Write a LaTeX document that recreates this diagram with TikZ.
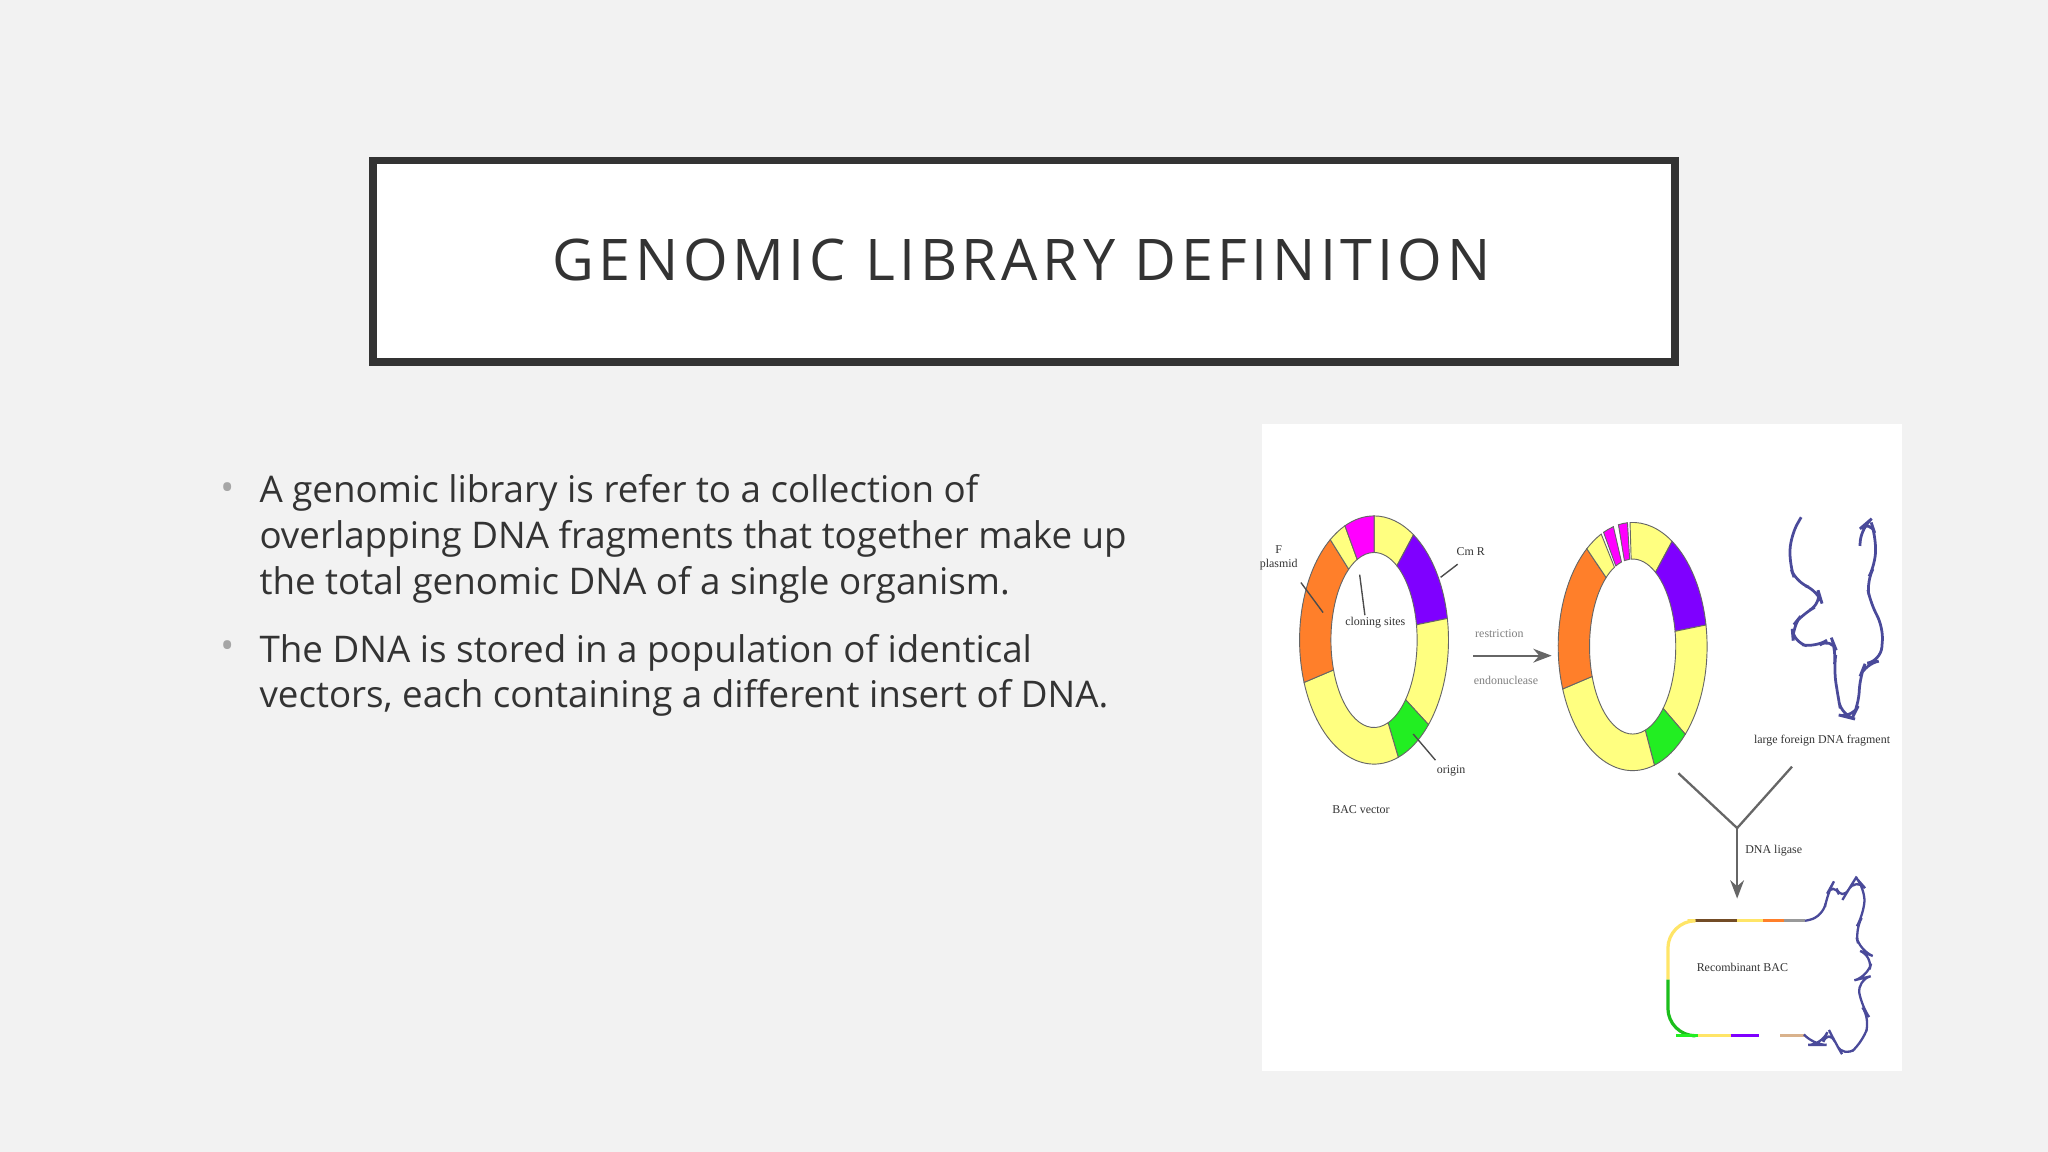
\documentclass[tikz,border=0pt]{standalone}
\usepackage{fontspec}
\setmainfont{Open Sans}
\newfontfamily\serf{Liberation Serif}
\usetikzlibrary{arrows.meta,calc}
\definecolor{bg}{HTML}{F2F2F2}
\definecolor{txt}{HTML}{333333}
\definecolor{ry}{HTML}{FFFF80}
\definecolor{ro}{HTML}{FF7F2A}
\definecolor{rm}{HTML}{FF00FF}
\definecolor{rp}{HTML}{7F00FF}
\definecolor{rg}{HTML}{22EE22}
\definecolor{dna}{HTML}{4A4A9A}
\tikzset{
  body/.style={anchor=base west,font=\fontsize{8}{10}\selectfont,text=txt,inner sep=0},
  lab/.style={font=\serf\fontsize{2.6}{3}\selectfont,inner sep=0,text=black!80},
  seg/.style={draw=black!60,line width=0.2pt},
}
\newcommand{\ringseg}[5]{% center x,y ; a1 ; a2 ; color
  \fill[#5,seg] ($(#1,#2)+({-(#3)}:57 and 95)$) arc[start angle={-(#3)},end angle={-(#4)},x radius=57,y radius=95]
   -- ($(#1,#2)+({-(#4)}:33 and 67)$) arc[start angle={-(#4)},end angle={-(#3)},x radius=33,y radius=67] -- cycle;}
\begin{document}
\begin{tikzpicture}[x=0.01cm,y=-0.01cm]
\fill[bg] (0,0) rectangle (1568,882);
\useasboundingbox (0,0) rectangle (1568,882);
% title
\node[draw=txt,line width=1.6pt,fill=white,minimum width=9.96cm,minimum height=1.54cm,inner sep=0] (title) at (784,200) {};
\node[text=txt,font=\fontsize{12.5}{14}\selectfont\addfontfeature{LetterSpace=8}] (tt) at (782,199) {GENOMIC LIBRARY DEFINITION};
% bullets
\node[text=gray!70,font=\fontsize{8}{10}\selectfont] (b1) at (174,376) {•};
\node[text=gray!70,font=\fontsize{8}{10}\selectfont] (b2) at (174,497) {•};
\node[body] (l1) at (198,385) {A genomic library is refer to a collection of};
\node[body] (l2) at (198,420) {overlapping DNA fragments that together make up};
\node[body] (l3) at (198,455) {the total genomic DNA of a single organism.};
\node[body] (l4) at (198,507) {The DNA is stored in a population of identical};
\node[body] (l5) at (198,542) {vectors, each containing a different insert of DNA.};
% figure
\fill[white] (966,325) rectangle (1456,820);
% ring 1
\ringseg{1052}{490}{58}{90}{ry}
\ringseg{1052}{490}{10}{58}{rp}
\ringseg{1052}{490}{-43}{10}{ry}
\ringseg{1052}{490}{-71}{-43}{rg}
\ringseg{1052}{490}{-160}{-71}{ry}
\ringseg{1052}{490}{-234}{-160}{ro}
\ringseg{1052}{490}{-247}{-234}{ry}
\ringseg{1052}{490}{-270}{-247}{rm}
% ring 2
\ringseg{1250}{495}{58}{92}{ry}
\ringseg{1250}{495}{10}{58}{rp}
\ringseg{1250}{495}{-45}{10}{ry}
\ringseg{1250}{495}{-73}{-45}{rg}
\ringseg{1250}{495}{-160}{-73}{ry}
\ringseg{1250}{495}{-232}{-160}{ro}
\ringseg{1250}{495}{-245}{-232}{ry}
\ringseg{1250}{495}{-255}{-247}{rm}
\ringseg{1250}{495}{-266}{-259}{rm}
% labels ring 1
\node[lab,align=center] (fp) at (979,427) {F\\plasmid};
\node[lab] (cmr) at (1126,422) {Cm R};
\node[lab] (cs) at (1053,477) {cloning sites};
\node[lab] (ori) at (1111,590) {origin};
\node[lab] (bac) at (1042,620) {BAC vector};
\coordinate (fpe) at (1013,469); \draw[black!70,line width=0.3pt] (996,446) -- (fpe);
\coordinate (cme) at (1103,442); \draw[black!70,line width=0.3pt] (1116,432) -- (cme);
\coordinate (cse) at (1041,440); \draw[black!70,line width=0.3pt] (1045,471) -- (cse);
\coordinate (ore) at (1082,562); \draw[black!70,line width=0.3pt] (1099,582) -- (ore);
% arrow
\node[lab,text=black!50] (re1) at (1148,485) {restriction};
\node[lab,text=black!50] (re2) at (1153,521) {endonuclease};
\coordinate (a1) at (1128,502); \coordinate (a2) at (1188,502);
\draw[black!60,line width=0.5pt,-{Stealth[length=4pt]}] (a1) -- (a2);
% DNA fragment
\draw[dna,line width=0.6pt,rounded corners=3pt] (1379,396) -- (1371,410) -- (1370,432) -- (1375,446) -- (1392,452) -- (1395,462) -- (1380,470) -- (1372,480) -- (1373,492) -- (1390,496) -- (1402,488) -- (1406,498) -- (1404,512) -- (1407,532) -- (1410,548) -- (1418,550) -- (1423,540) -- (1424,518) -- (1428,508) -- (1440,506) -- (1442,480) -- (1432,462) -- (1429,445) -- (1436,432) -- (1436,410) -- (1432,398) -- (1425,404) -- (1424,418);
\node[lab] (lf) at (1395,567) {large foreign DNA fragment};
% Y
\coordinate (y1) at (1285,592); \coordinate (y2) at (1372,587); \coordinate (yj) at (1330,634); \coordinate (ye) at (1330,688);
\draw[black!60,line width=0.5pt] (y1) -- (yj) -- (y2);
\draw[black!60,line width=0.5pt,-{Stealth[length=4pt]}] (yj) -- (ye);
\node[lab] (lig) at (1358,651) {DNA ligase};
% recombinant BAC
\draw[black!40!brown,line width=0.7pt] (1292,705) -- (1330,705);
\draw[ry!80!orange,line width=0.7pt] (1330,705) -- (1350,705);
\draw[ro,line width=0.7pt] (1350,705) -- (1366,705);
\draw[black!40,line width=0.7pt] (1366,705) -- (1382,705);
\draw[ry!80!orange,line width=0.7pt,rounded corners=6pt] (1292,705) -- (1277,705) -- (1277,750);
\draw[rg!80!black,line width=0.7pt,rounded corners=6pt] (1277,750) -- (1277,793) -- (1296,793);
\draw[rg,line width=0.7pt] (1283,793) -- (1300,793);
\draw[ry!80!orange,line width=0.7pt] (1300,793) -- (1325,793);
\draw[rp,line width=0.7pt] (1325,793) -- (1347,793);
\draw[brown!60,line width=0.7pt] (1363,793) -- (1382,793);
\draw[dna,line width=0.5pt,rounded corners=3pt] (1382,705) -- (1396,702) -- (1399,684) -- (1404,675) -- (1410,690) -- (1416,680) -- (1421,672) -- (1428,680) -- (1427,700) -- (1420,712) -- (1424,728) -- (1434,732) -- (1430,748) -- (1422,750) -- (1425,770) -- (1432,780) -- (1426,798) -- (1412,810) -- (1405,798) -- (1400,788) -- (1395,800) -- (1388,800) -- (1382,793);
\node[lab] (rb) at (1334,741) {Recombinant BAC};
\end{tikzpicture}
\end{document}
